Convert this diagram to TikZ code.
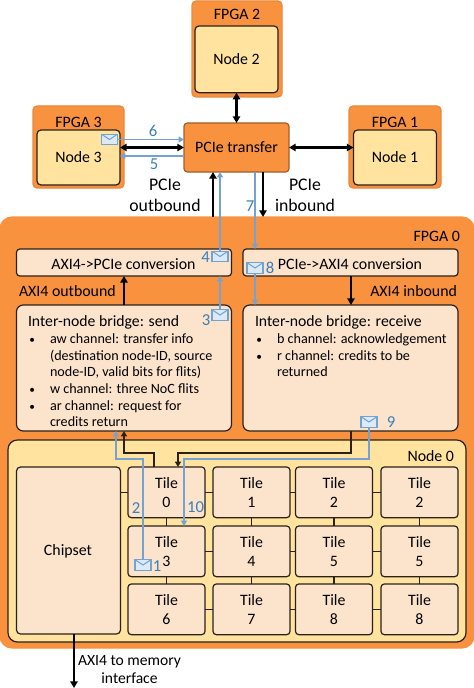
\documentclass[tikz,border=0pt]{standalone}
\usepackage{fontspec}
\setmainfont{Carlito}
\usetikzlibrary{arrows.meta,calc}
\definecolor{orangeF}{HTML}{F8923F}
\definecolor{orangeB}{HTML}{E9883C}
\definecolor{nodeY}{HTML}{FFE39F}
\definecolor{tileF}{HTML}{FBE3CC}
\definecolor{lineB}{HTML}{2A2118}
\definecolor{msgL}{HTML}{74A3D3}
\definecolor{msgT}{HTML}{3A7FB8}
\definecolor{envF}{HTML}{DCEAF7}
\newcommand{\bx}{\makebox[16.5pt][l]{\hspace{1pt}{\fontsize{8.5pt}{12.5pt}\selectfont •}}}
\tikzset{
  x=0.75pt,y=-0.75pt,
  every node/.style={font=\fontsize{11.9pt}{12.5pt}\selectfont,text=black,inner sep=0pt,outer sep=0pt},
  box/.style={anchor=north west,draw=lineB,line width=0.9pt,rounded corners=2.5pt},
  fpga/.style={box,draw=orangeB,fill=orangeF,rounded corners=3pt},
  inner/.style={box,fill=nodeY,rounded corners=3pt},
  tilebox/.style={box,fill=tileF,align=center,minimum width=57.75pt,font=\fontsize{11.9pt}{14.25pt}\selectfont},
  bar/.style={box,fill=tileF},
  bus/.style={line width=1.6pt,black,-{Triangle[length=5pt,width=5.5pt]}},
  biarrow/.style={line width=1.6pt,black,{Triangle[length=5pt,width=5.5pt]}-{Triangle[length=5pt,width=5.5pt]}},
  thin link/.style={line width=1pt,lineB},
  nolink/.style={line width=1pt,lineB,-{Triangle[length=4pt,width=4.5pt]}},
  msg/.style={line width=0.9pt,msgL,-{Triangle[length=4pt,width=4.5pt]}},
  envelope/.style={draw=msgL,fill=envF,line width=0.9pt,minimum width=12pt,minimum height=8pt,
    path picture={\draw[msgL,line width=0.8pt] (path picture bounding box.north west)--(path picture bounding box.center)--(path picture bounding box.north east);}},
  num/.style={text=msgT,font=\fontsize{12.5pt}{12.5pt}\selectfont},
  lab/.style={align=center,font=\fontsize{13.3pt}{15.75pt}\selectfont},
}
\begin{document}
\begin{tikzpicture}
\useasboundingbox (0,0) rectangle (474,688);
% FPGAs
\node[fpga,minimum width=67.5pt,minimum height=72pt] (f2) at (192,1) {};
\node[fpga,minimum width=68.25pt,minimum height=61.5pt] (f3) at (33,106) {};
\node[fpga,minimum width=69pt,minimum height=61.5pt] (f1) at (349,106) {};
\node[fpga,rounded corners=9pt,draw=orangeF,minimum width=355.5pt,minimum height=323.25pt] (f0) at (0,217) {};
\node at (237,14) {FPGA 2};
\node at (78.5,122) {FPGA 3};
\node at (395,122) {FPGA 1};
\node[anchor=east] at (460,236) {FPGA 0};
\node[inner,minimum width=62.25pt,minimum height=50pt] (n2) at (195,26) {Node 2};
\node[inner,minimum width=62.25pt,minimum height=41.25pt] (n3) at (37,130) {Node 3};
\node[inner,minimum width=62.25pt,minimum height=41.25pt] (n1) at (353.5,130) {Node 1};
\node[box,draw=orangeB!70!black,fill=orangeF,minimum width=78.75pt,minimum height=36.75pt] (pcie) at (184,123) {PCIe transfer};
% bars
\node[bar,minimum width=161.25pt,minimum height=20.25pt] (a2p) at (16.5,249) {};
\node at (123.5,264) {AXI4->PCIe conversion};
\node[bar,minimum width=161.25pt,minimum height=20.25pt] (p2a) at (243,249) {};
\node at (350,264) {PCIe->AXI4 conversion};
\node[bar,rounded corners=5pt,minimum width=161.25pt,minimum height=94.5pt] (send) at (16.5,305) {};
\node[bar,rounded corners=5pt,minimum width=161.25pt,minimum height=94.5pt] (recv) at (243,305) {};
\node[anchor=north west,align=left,font=\fontsize{10.6pt}{12.5pt}\selectfont] (sendt) at (28,316) {%
{\fontsize{11.8pt}{12.5pt}\selectfont Inter-node bridge: send}\\
\bx aw channel: transfer info\\
\hspace{16.5pt}(destination node-ID, source\\
\hspace{16.5pt}node-ID, valid bits for flits)\\
\bx w channel: three NoC flits\\
\bx ar channel: request for\\
\hspace{16.5pt}credits return};
\node[anchor=north west,align=left,font=\fontsize{10.6pt}{12.5pt}\selectfont] (recvt) at (255,316) {%
{\fontsize{11.8pt}{12.5pt}\selectfont Inter-node bridge: receive}\\
\bx b channel: acknowledgement\\
\bx r channel: credits to be\\
\hspace{16.5pt}returned};
% Node 0
\node[inner,rounded corners=7pt,minimum width=343.5pt,minimum height=151.5pt] (n0) at (8,440) {};
\node[anchor=east] at (454,456) {Node 0};
\node[box,fill=tileF,rounded corners=3pt,minimum width=78pt,minimum height=125.25pt] (chip) at (16.5,467) {};
\node at (68,551) {Chipset};
% tiles
\foreach \nm/\xx/\yy/\tx/\w in {t0/128/467/0/57.75,t1/213/467/1/57.75,t2/295.5/467/2/57.75,t2b/381/467/2/57.75,
 t3/128/526/3/57.75,t4/213/526/4/57.75,t5/295.5/526/5/57.75,t5b/381/526/5/57.75,
 t6/128/584/6/57.75,t7/213/584/7/57.75,t8/295.5/584/8/57.75,t8b/381/584/8/57.75}{
  \node[tilebox,minimum height=38pt,minimum width=\w pt] (\nm) at (\xx,\yy) {Tile\\\tx};
}
% mesh links
\foreach \a/\b in {t0/t1,t1/t2,t2/t2b,t3/t4,t4/t5,t5/t5b,t6/t7,t7/t8,t8/t8b}{
  \draw[thin link] (\a.east)--(\b.west);
}
\foreach \a/\b in {t0/t3,t1/t4,t2/t5,t2b/t5b,t3/t6,t4/t7,t5/t8,t5b/t8b}{
  \draw[thin link] (\a.south)--(\b.north);
}
\draw[thin link] (chip.east |- t0.east)--(t0.west);
% helper columns
\coordinate (c74) at (74,0);
\coordinate (c124) at (124,0);
\coordinate (c154) at (154,0);
\coordinate (c178) at (178,0);
\coordinate (c213) at (213,0);
\coordinate (c263) at (263,0);
\coordinate (c351) at (351,0);
\coordinate (r453) at (0,453);
\coordinate (r459) at (0,459);
\coordinate (c116) at (116,0);
\coordinate (c184) at (184,0);
\coordinate (rend) at (74,688);
% black connectors
\draw[biarrow] (n2.south)--(pcie.north);
\draw[biarrow] (n3.east |- pcie.west)--(pcie.west);
\draw[biarrow] (pcie.east)--(n1.west |- pcie.east);
\draw[bus] (f0.north -| c213)--(pcie.south -| c213);
\draw[bus] (pcie.south -| c263)--(f0.north -| c263);
\draw[bus] (send.north -| c124)--(a2p.south -| c124);
\draw[bus] (p2a.south -| c351)--(recv.north -| c351);
\draw[bus] (chip.south -| c74)--(rend);
\draw[nolink] (t0.north -| c154)--(r453 -| c154)--(r453 -| c124)--(send.south -| c124);
\draw[nolink] (recv.south -| c351)--(r453 -| c351)--(r453 -| c178)--(t0.north -| c178);
% envelopes
\node[envelope] (e6) at (109.5,139.5) {};
\node[envelope] (e4) at (220,256.5) {};
\node[envelope] (e8) at (255,268) {};
\node[envelope] (e3) at (220,315) {};
\node[envelope] (e9) at (369,422) {};
\node[envelope] (e1) at (143,565) {};
% message connectors
\coordinate (r156) at (0,156);
\draw[msg] (e6.east)--(pcie.west |- e6.east);
\draw[msg] (pcie.west |- r156)--(n3.east |- r156);
\draw[msg] (e4.north)--(pcie.south -| e4.north);
\draw[msg] (e3.north)--(a2p.south -| e3.north);
\draw[msg] (pcie.south -| e8.north)--(p2a.north -| e8.north);
\draw[msg] (e8.south)--(recv.north -| e8.south);
\draw[msg] (e1.north)--(r459 -| e1.north)--(r459 -| c116)--(send.south -| c116);
\draw[msg] (e9.south)--(r459 -| e9.south)--(r459 -| c184)--(t3.north -| c184);
% numbers
\node[num] at (153,131) {6};
\node[num] at (154,164) {5};
\node[num] at (250,206) {7};
\node[num] at (205.5,257) {4};
\node[num] at (270,267.5) {8};
\node[num] at (206,320) {3};
\node[num] at (391,422) {9};
\node[num] at (136,508) {2};
\node[num] at (195.5,507) {10};
\node[num] at (157,566) {1};
% labels
\node[lab] at (165,195) {PCIe\\outbound};
\node[lab] at (305,195) {PCIe\\inbound};
\node[anchor=west] at (19,291) {AXI4 outbound};
\node[anchor=east] at (457,291) {AXI4 inbound};
\node[align=center,font=\fontsize{11.7pt}{13.5pt}\selectfont] at (129.5,670) {AXI4 to memory\\interface};
\end{tikzpicture}
\end{document}
